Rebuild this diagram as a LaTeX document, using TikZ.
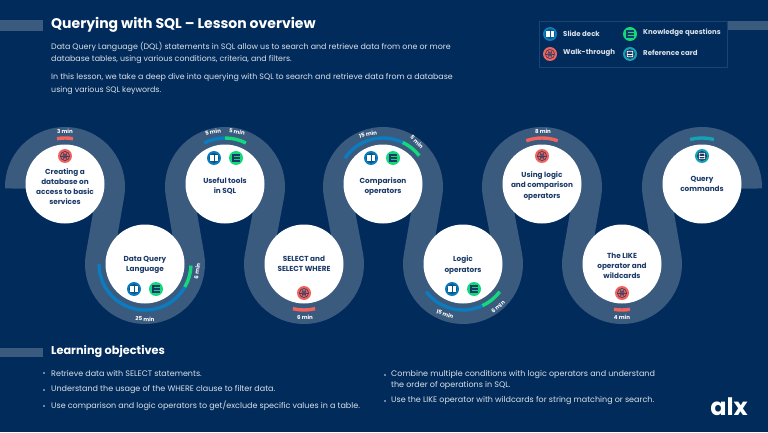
\documentclass[tikz,border=0pt]{standalone}
\usepackage{fontspec}
\setmainfont{Poppins}[BoldFont={Poppins Bold}]
\definecolor{pagebg}{HTML}{012B5B}
\definecolor{bandcol}{HTML}{3A5A7E}
\definecolor{framecol}{HTML}{1C4372}
\definecolor{inkcol}{HTML}{1B3A67}
\definecolor{parcol}{HTML}{DCE2EA}
\definecolor{deckcol}{HTML}{0C7CC0}
\definecolor{quizcol}{HTML}{12DA7C}
\definecolor{walkcol}{HTML}{F2635C}
\definecolor{cardcol}{HTML}{14A3B5}
\tikzset{
	stop/.style={circle,fill=white,minimum size=79pt,inner sep=0pt},
	ribbon/.style={draw=bandcol,line width=28pt},
	progress/.style={line width=3.4pt,draw=#1},
	stoptext/.style={align=center,text=inkcol,font=\fontsize{7.3}{10.2}\selectfont\bfseries},
	timetext/.style={text=white,inner sep=0pt,font=\fontsize{5.5}{6}\selectfont\bfseries},
	para/.style={anchor=west,inner sep=0pt,text=parcol,font=\fontsize{8}{10}\selectfont},
	intro/.style={para,font=\fontsize{7.9}{10}\selectfont},
	heading/.style={anchor=west,inner sep=0pt,text=white,font=\bfseries},
	legend/.style={anchor=west,inner sep=0pt,text=parcol,font=\fontsize{7}{9}\selectfont\bfseries},
	icon/.style={circle,minimum size=14pt,inner sep=0pt,fill=#1},
}
% lesson icons, each one a node and its small inner drawing
\newcommand{\bookicon}[2]{\node[icon=deckcol] (#1) at (#2) {};
	\fill[black!30!deckcol] (#1.center) circle (5.2);
	\fill[white] ([shift={(-3.7,-2.6)}]#1.center) rectangle ++(3.2,5.2);
	\fill[white] ([shift={(0.5,-2.6)}]#1.center) rectangle ++(3.2,5.2);}
\newcommand{\quizicon}[2]{\node[icon=quizcol] (#1) at (#2) {};
	\fill[inkcol] ([shift={(-3.6,-3.6)}]#1.center) rectangle ++(1.7,7.2);
	\foreach \dy in {-3.6,-0.7,2.2}{\fill[inkcol] ([shift={(-1.9,\dy)}]#1.center) rectangle ++(5.6,1.4);}}
\newcommand{\walkicon}[2]{\node[icon=walkcol] (#1) at (#2) {};
	\draw[inkcol!80!walkcol,line width=0.7pt] (#1.center) circle (4.6) circle (2);
	\foreach \a in {0,60,120}{\draw[inkcol!80!walkcol,line width=0.5pt] ([shift={(\a:4.6)}]#1.center) -- ([shift={(\a+180:4.6)}]#1.center);}}
\newcommand{\cardicon}[2]{\node[icon=cardcol] (#1) at (#2) {};
	\fill[inkcol] (#1.center) circle (5);
	\draw[white,line width=0.8pt,rounded corners=0.6pt] ([shift={(-2.8,-2.8)}]#1.center) rectangle ++(5.6,5.6);
	\draw[white,line width=0.8pt] ([shift={(-2.8,0)}]#1.center) -- ++(5.6,0);}
\newcommand{\timearc}[4]{\draw[progress=#4] ([shift={(#2:46)}]#1.center) arc[start angle=#2,end angle=#3,radius=46];}
\newcommand{\timelabel}[5]{\node[timetext,rotate=#4] (#1) at (#2,#3) {#5};}
\begin{document}
\begin{tikzpicture}[x=1pt,y=1pt]
    \fill[pagebg] (0,0) rectangle (768,432);
    \useasboundingbox (0,0) rectangle (768,432);
    % header and bands
    \fill[bandcol] (0,401) rectangle (43,412);
    \fill[bandcol] (0,75) rectangle (43,84);
    \fill[bandcol] (727,402) rectangle (768,411);
    \node[heading,font=\fontsize{14}{16}\selectfont\bfseries] (title) at (51,407) {Querying with SQL -- Lesson overview};
    \node[intro] (intro1) at (51,385.5) {Data Query Language (DQL) statements in SQL allow us to search and retrieve data from one or more};
    \node[intro] (intro2) at (51,372) {database tables, using various conditions, criteria, and filters.};
    \node[intro] (intro3) at (51,354) {In this lesson, we take a deep dive into querying with SQL to search and retrieve data from a database};
    \node[intro] (intro4) at (51,341) {using various SQL keywords.};
    % legend
    \draw[framecol,line width=0.8pt] (539,365) rectangle (727,411);
    \bookicon{legbook}{550,398}
    \walkicon{legwalk}{550,378}
    \quizicon{legquiz}{630,398}
    \cardicon{legcard}{630,378}
    \node[legend] (legt1) at (563,398.5) {Slide deck};
    \node[legend] (legt2) at (563,379) {Walk-through};
    \node[legend] (legt3) at (643,399) {Knowledge questions};
    \node[legend] (legt4) at (643,379) {Reference card};
    % the winding road
    \draw[ribbon] ([shift={(182:46)}]65,245) arc[start angle=182,end angle=-10.3,radius=46]
        \foreach \low/\up in {145/225,304/383,463/542}{
            -- ([shift={(169.7:46)}]\low,168) arc[start angle=169.7,end angle=370.3,radius=46]
            -- ([shift={(190.3:46)}]\up,245) arc[start angle=190.3,end angle=-10.3,radius=46]
        }
        -- ([shift={(169.7:46)}]622,168) arc[start angle=169.7,end angle=370.3,radius=46]
        -- ([shift={(190.3:46)}]702,245) arc[start angle=190.3,end angle=-2,radius=46];
    % stops
    \foreach \name/\x/\y in {c1/65/248,c2/145/168,c3/225/248,c4/304/168,c5/383/248,c6/463/168,c7/542/248,c8/622/168,c9/702/248}{
        \node[stop] (\name) at (\x,\y) {};
    }
    \node[stoptext] (t1) at (65,245.5) {Creating a\\database on\\access to basic\\services};
    \node[stoptext] (t2) at (145,167) {Data Query\\Language};
    \node[stoptext] (t3) at (225,246) {Useful tools\\in SQL};
    \node[stoptext] (t4) at (304,168) {SELECT and\\SELECT WHERE};
    \node[stoptext] (t5) at (383,245.5) {Comparison\\operators};
    \node[stoptext] (t6) at (463,167) {Logic\\operators};
    \node[stoptext] (t7) at (542,246) {Using logic\\and comparison\\operators};
    \node[stoptext] (t8) at (622,166) {The LIKE\\operator and\\wildcards};
    \node[stoptext] (t9) at (702,248) {Query\\commands};
    % time arcs
    \timearc{c1}{100}{80}{walkcol}
    \timearc{c2}{180}{330}{deckcol}
    \timearc{c2}{330}{358}{quizcol}
    \timearc{c3}{117}{90}{deckcol}
    \timearc{c3}{90}{63}{quizcol}
    \timearc{c4}{256}{284}{walkcol}
    \timearc{c5}{146}{64.5}{deckcol}
    \timearc{c5}{64.5}{38}{quizcol}
    \timearc{c6}{217}{295}{deckcol}
    \timearc{c6}{295}{323}{quizcol}
    \timearc{c7}{110}{70}{walkcol}
    \timearc{c8}{260}{280}{walkcol}
    \timearc{c9}{105}{75}{cardcol}
    % time labels
    \timelabel{m1}{65}{301}{0}{3 min}
    \timelabel{m2a}{145}{113}{-3}{25 min}
    \timelabel{m2c}{197}{161}{82}{6 min}
    \timelabel{m3a}{213}{300}{10}{5 min}
    \timelabel{m3b}{237}{300}{-10}{5 min}
    \timelabel{m4}{305}{115}{0}{6 min}
    \timelabel{m5a}{368}{298}{12}{15 min}
    \timelabel{m5b}{417}{290}{-45}{5 min}
    \timelabel{m6a}{445}{118}{-20}{15 min}
    \timelabel{m6b}{498}{125}{40}{6 min}
    \timelabel{m7}{543}{301}{0}{8 min}
    \timelabel{m8}{622}{115}{0}{4 min}
    % icons on the stops
    \walkicon{i1}{65,276}
    \bookicon{i2a}{134,143}
    \quizicon{i2b}{156,143}
    \bookicon{i3a}{214,274}
    \quizicon{i3b}{236,274}
    \walkicon{i4}{304,139}
    \bookicon{i5a}{371,274}
    \quizicon{i5b}{393,274}
    \bookicon{i6a}{452,143}
    \quizicon{i6b}{474,143}
    \walkicon{i7}{542,276}
    \walkicon{i8}{622,139}
    \cardicon{i9}{702,276}
    % objectives
    \fill[parcol] (44,59) circle (0.9) (44,42) circle (0.9) (44,26) circle (0.9) (385,57) circle (0.9) (385,31) circle (0.9);
    \node[heading,font=\fontsize{11.3}{13}\selectfont\bfseries] (goals) at (51,80) {Learning objectives};
    \node[para] (g1) at (51,59) {Retrieve data with SELECT statements.};
    \node[para] (g2) at (51,42) {Understand the usage of the WHERE clause to filter data.};
    \node[para] (g3) at (51,26) {Use comparison and logic operators to get/exclude specific values in a table.};
    \node[para] (g4) at (391,57) {Combine multiple conditions with logic operators and understand};
    \node[para] (g5) at (391,47) {the order of operations in SQL.};
    \node[para] (g6) at (391,31) {Use the LIKE operator with wildcards for string matching or search.};
    \node[inner sep=0pt,text=white,font=\fontsize{24}{24}\selectfont\bfseries] (logo) at (729,25) {alx};
\end{tikzpicture}
\end{document}
